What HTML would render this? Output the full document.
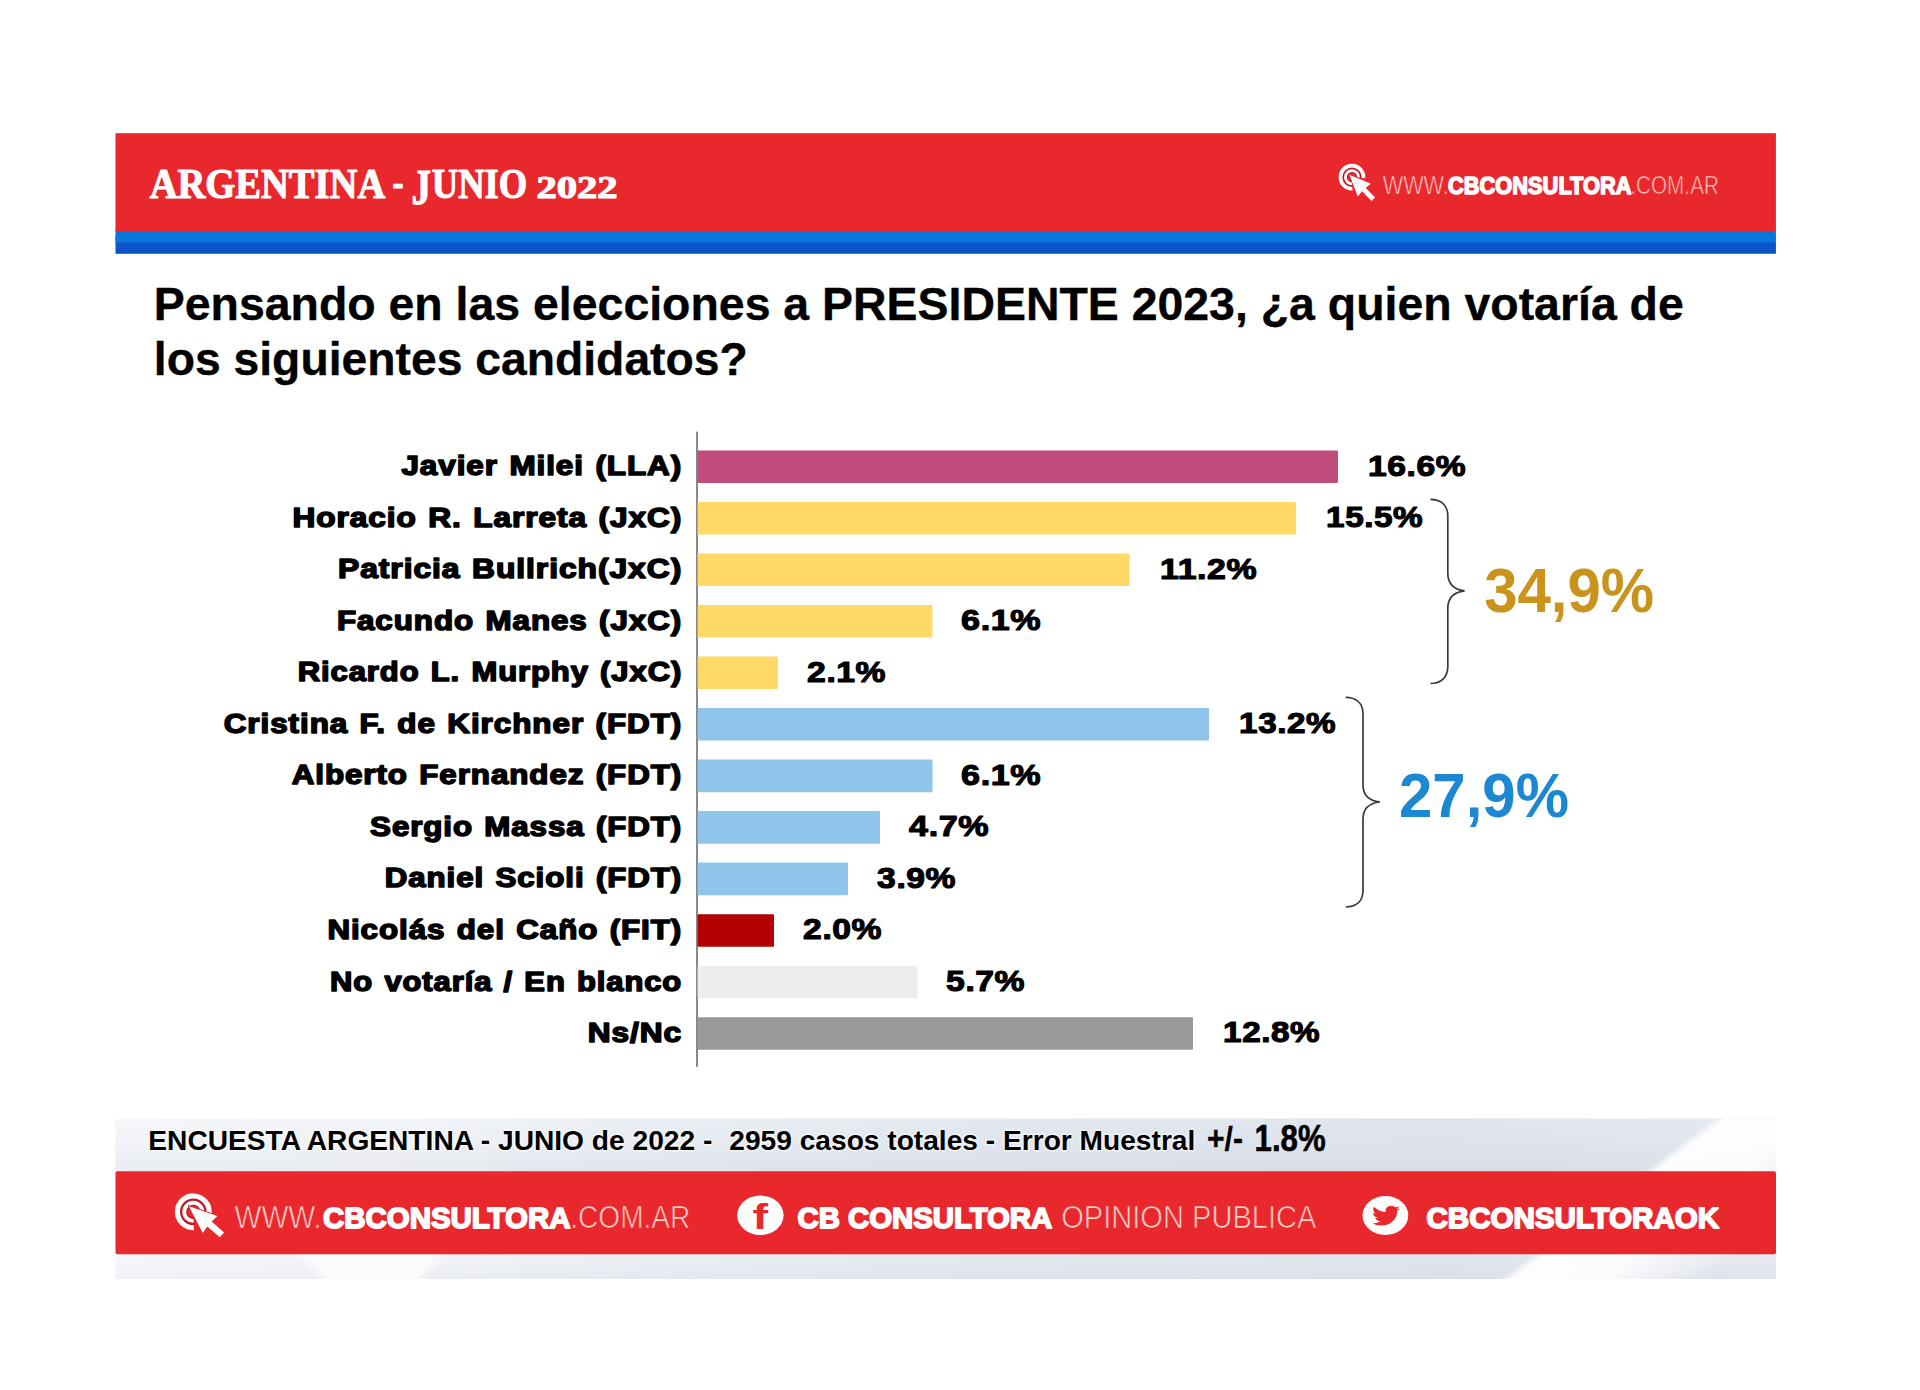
<!DOCTYPE html>
<html lang="es">
<head>
<meta charset="utf-8">
<title>Encuesta Argentina - Junio 2022</title>
<style>
html,body{margin:0;padding:0;background:#fff;}
body{width:1920px;height:1390px;overflow:hidden;position:relative;}
svg{position:absolute;left:0;top:0;display:block;}
text{font-family:"Liberation Sans",sans-serif;}
.serif{font-family:"Liberation Serif",serif;font-weight:bold;fill:#fff;stroke:#fff;stroke-width:1.15px;stroke-linejoin:round;}
.ttl{font-weight:bold;font-size:46.4px;fill:#000;stroke:#000;stroke-width:.35px;}
.blk{font-weight:bold;font-size:26.9px;fill:#000;stroke:#000;stroke-width:1.5px;stroke-linejoin:round;word-spacing:1.5px;letter-spacing:.8px;}
.val{font-size:29.8px;stroke-width:1.15px;letter-spacing:.5px;}
.big{font-weight:bold;font-size:63px;}
.thin{font-weight:normal;fill:#ffd2cb;stroke:#e8282c;stroke-width:.7px;}
.hvy{font-weight:bold;fill:#fff;stroke:#fff;stroke-linejoin:round;}
.foot{font-weight:bold;fill:#000;stroke:#fff;stroke-opacity:.55;stroke-width:3px;paint-order:stroke;stroke-linejoin:round;}
.fb{font-weight:bold;fill:#e8282c;}
</style>
</head>
<body>
<svg width="1920" height="1390" viewBox="0 0 1920 1390">
<defs>
</defs>

<g id="header">
<rect x="115.5" y="236" width="1660.4" height="17.8" fill="#0b53c6"/>
<rect x="115.5" y="228" width="1660.4" height="14.5" fill="#0876da"/>
<rect x="115.5" y="133.2" width="1660.4" height="98" fill="#e8282c"/>

<text class="serif" y="197.7" font-size="41.5"><tspan x="149.7" textLength="233.4" lengthAdjust="spacingAndGlyphs">ARGENTINA</tspan> <tspan x="392.5" textLength="11.0" lengthAdjust="spacingAndGlyphs" y="195.9">-</tspan> <tspan x="411.4" textLength="19.5" lengthAdjust="spacingAndGlyphs" y="204" font-size="51">J</tspan><tspan x="431.8" textLength="95.4" lengthAdjust="spacingAndGlyphs" y="197.7">UNIO</tspan> <tspan x="536.4" textLength="81.2" lengthAdjust="spacingAndGlyphs" y="197.7" font-size="31.5">2022</tspan></text>
<g transform="translate(1352.0,177.2)">
<path d="M6.83 0.96 A6.90 6.90 0 1 0 0.72 6.86" fill="none" stroke="#bd1a27" stroke-width="5.60"/>
<path d="M11.52 0.81 A11.55 11.55 0 1 0 0.40 11.54" fill="none" stroke="#fff" stroke-width="3.70"/>
<path d="M6.60 0.23 A6.60 6.60 0 1 0 0.23 6.60" fill="none" stroke="#fff" stroke-width="2.80"/>
<g transform="translate(-2.60,-2.40) rotate(-44.3)">
<polygon points="0,0 9.2,21.5 2.5,20.7 2.5,34.2 -2.5,34.2 -2.5,20.7 -9.2,21.5" fill="#fff" stroke="#e8282c" stroke-width="1.50" stroke-linejoin="round" paint-order="stroke"/>
</g></g>
<text y="193.5"><tspan x="1382.7" textLength="66.2" lengthAdjust="spacingAndGlyphs" class="thin" font-size="26.6">WWW.</tspan><tspan x="1448.1" textLength="183.4" lengthAdjust="spacingAndGlyphs" class="hvy" font-size="24.2" stroke-width="1.6">CBCONSULTORA</tspan><tspan x="1630.3" textLength="88.6" lengthAdjust="spacingAndGlyphs" class="thin" font-size="26.6">.COM.AR</tspan></text>
</g>
<g id="title">
<text x="153.8" y="319.6" class="ttl" textLength="1530.0" lengthAdjust="spacingAndGlyphs">Pensando en las elecciones a PRESIDENTE 2023, ¿a quien votaría de</text>
<text x="153.8" y="375.3" class="ttl" textLength="594.0" lengthAdjust="spacingAndGlyphs">los siguientes candidatos?</text>
</g>
<g id="chart">
<rect x="696.1" y="431.6" width="1.8" height="635.3" fill="#7c7c7c"/>
<rect x="697.6" y="450.4" width="640.4" height="32.6" rx="1.2" fill="#bf4c7c"/>
<text x="401.4" y="475.2" class="blk" textLength="280.8" lengthAdjust="spacingAndGlyphs">Javier Milei (LLA)</text>
<text x="1368.1" y="475.6" class="blk val" textLength="98.0" lengthAdjust="spacingAndGlyphs">16.6%</text>
<rect x="697.6" y="501.9" width="598.4" height="32.6" rx="1.2" fill="#ffd966"/>
<text x="292.5" y="526.7" class="blk" textLength="389.7" lengthAdjust="spacingAndGlyphs">Horacio R. Larreta (JxC)</text>
<text x="1326.1" y="527.1" class="blk val" textLength="97.0" lengthAdjust="spacingAndGlyphs">15.5%</text>
<rect x="697.6" y="553.5" width="431.9" height="32.6" rx="1.2" fill="#ffd966"/>
<text x="338.0" y="578.3" class="blk" textLength="344.2" lengthAdjust="spacingAndGlyphs">Patricia Bullrich(JxC)</text>
<text x="1160.1" y="578.7" class="blk val" textLength="97.0" lengthAdjust="spacingAndGlyphs">11.2%</text>
<rect x="697.6" y="605.0" width="234.9" height="32.6" rx="1.2" fill="#ffd966"/>
<text x="336.9" y="629.8" class="blk" textLength="345.3" lengthAdjust="spacingAndGlyphs">Facundo Manes (JxC)</text>
<text x="961.1" y="630.2" class="blk val" textLength="80.0" lengthAdjust="spacingAndGlyphs">6.1%</text>
<rect x="697.6" y="656.5" width="80.4" height="32.6" rx="1.2" fill="#ffd966"/>
<text x="297.7" y="681.3" class="blk" textLength="384.5" lengthAdjust="spacingAndGlyphs">Ricardo L. Murphy (JxC)</text>
<text x="807.1" y="681.7" class="blk val" textLength="79.0" lengthAdjust="spacingAndGlyphs">2.1%</text>
<rect x="697.6" y="708.0" width="511.4" height="32.6" rx="1.2" fill="#8fc5ea"/>
<text x="223.7" y="732.9" class="blk" textLength="458.5" lengthAdjust="spacingAndGlyphs">Cristina F. de Kirchner (FDT)</text>
<text x="1239.1" y="733.2" class="blk val" textLength="97.0" lengthAdjust="spacingAndGlyphs">13.2%</text>
<rect x="697.6" y="759.6" width="234.9" height="32.6" rx="1.2" fill="#8fc5ea"/>
<text x="291.7" y="784.4" class="blk" textLength="390.5" lengthAdjust="spacingAndGlyphs">Alberto Fernandez (FDT)</text>
<text x="961.1" y="784.8" class="blk val" textLength="80.0" lengthAdjust="spacingAndGlyphs">6.1%</text>
<rect x="697.6" y="811.1" width="182.4" height="32.6" rx="1.2" fill="#8fc5ea"/>
<text x="370.1" y="835.9" class="blk" textLength="312.1" lengthAdjust="spacingAndGlyphs">Sergio Massa (FDT)</text>
<text x="909.1" y="836.3" class="blk val" textLength="80.0" lengthAdjust="spacingAndGlyphs">4.7%</text>
<rect x="697.6" y="862.6" width="150.4" height="32.6" rx="1.2" fill="#8fc5ea"/>
<text x="384.7" y="887.4" class="blk" textLength="297.5" lengthAdjust="spacingAndGlyphs">Daniel Scioli (FDT)</text>
<text x="877.1" y="887.8" class="blk val" textLength="79.0" lengthAdjust="spacingAndGlyphs">3.9%</text>
<rect x="697.6" y="914.2" width="76.4" height="32.6" rx="1.2" fill="#b30000"/>
<text x="327.4" y="939.0" class="blk" textLength="354.8" lengthAdjust="spacingAndGlyphs">Nicolás del Caño (FIT)</text>
<text x="803.1" y="939.4" class="blk val" textLength="79.0" lengthAdjust="spacingAndGlyphs">2.0%</text>
<rect x="697.6" y="965.7" width="219.9" height="32.6" rx="1.2" fill="#ededed"/>
<text x="330.1" y="990.5" class="blk" textLength="352.1" lengthAdjust="spacingAndGlyphs">No votaría / En blanco</text>
<text x="946.1" y="990.9" class="blk val" textLength="79.0" lengthAdjust="spacingAndGlyphs">5.7%</text>
<rect x="697.6" y="1017.2" width="495.4" height="32.6" rx="1.2" fill="#999999"/>
<text x="587.7" y="1042.0" class="blk" textLength="94.5" lengthAdjust="spacingAndGlyphs">Ns/Nc</text>
<text x="1223.1" y="1042.4" class="blk val" textLength="97.0" lengthAdjust="spacingAndGlyphs">12.8%</text>
<path d="M1430.5 499.3 C1441 499.5 1447.8 505 1447.8 516 L1447.8 573 C1447.8 583 1453 589.5 1464.6 590.8 C1453 592.1 1447.8 598.5 1447.8 608.5 L1447.8 666.5 C1447.8 677.5 1441 683.3 1430.5 683.5" fill="none" stroke="#3a3a3a" stroke-width="1.7"/>
<path d="M1345.7 697.3 C1356 697.5 1363 703 1363 714 L1363 785 C1363 795 1368.5 800.8 1379.9 802 C1368.5 803.2 1363 809 1363 819 L1363 890.5 C1363 901.5 1356 906.8 1345.7 907" fill="none" stroke="#3a3a3a" stroke-width="1.7"/>
<text x="1484.2" y="611.6" class="big" textLength="170.0" lengthAdjust="spacingAndGlyphs" fill="#c9931c">34,9%</text>
<text x="1399.0" y="817.2" class="big" textLength="170.0" lengthAdjust="spacingAndGlyphs" fill="#1b88d1">27,9%</text>
</g>
<g id="footer">
<defs>
<linearGradient id="fbg" x1="0" y1="0" x2="1" y2="0">
<stop offset="0" stop-color="#f5f7fa"/>
<stop offset="0.18" stop-color="#f2f4f8"/>
<stop offset="0.33" stop-color="#eaeef4"/>
<stop offset="0.55" stop-color="#e3e8ef"/>
<stop offset="0.8" stop-color="#e0e5ed"/>
<stop offset="1" stop-color="#e6e9f0"/>
</linearGradient>
<linearGradient id="vshade" x1="0" y1="0" x2="0" y2="1">
<stop offset="0" stop-color="#aab3c4" stop-opacity="0"/>
<stop offset="0.45" stop-color="#aab3c4" stop-opacity=".05"/>
<stop offset="1" stop-color="#aab3c4" stop-opacity=".16"/>
</linearGradient>
<linearGradient id="streak" gradientUnits="userSpaceOnUse" x1="1712.5" y1="1119" x2="1832.5" y2="1279">
<stop offset="0" stop-color="#fff" stop-opacity="0"/>
<stop offset="0.04" stop-color="#fff" stop-opacity=".92"/>
<stop offset="0.3" stop-color="#fff" stop-opacity=".9"/>
<stop offset="0.62" stop-color="#fff" stop-opacity="0"/>
</linearGradient>
</defs>
<rect x="115.5" y="1118.5" width="1660.5" height="160.5" fill="url(#fbg)"/>
<rect x="115.5" y="1118.5" width="1660.5" height="53" fill="url(#vshade)"/>
<rect x="115.5" y="1254" width="1660.5" height="25" fill="url(#vshade)" opacity=".6"/>
<polygon points="305,1254 436,1254 418,1279 328,1279" fill="#fff" fill-opacity=".6"/>
<polygon points="296,1254 446,1254 426,1279 318,1279" fill="#fff" fill-opacity=".3"/>
<rect x="115.5" y="1118.5" width="1660.5" height="160.5" fill="url(#streak)"/>
<rect x="115.5" y="1171.3" width="1660.5" height="83" rx="2" fill="#e8282c"/>

<text class="foot" y="1150.0" font-size="27.8"><tspan x="148.3" textLength="564.0" lengthAdjust="spacingAndGlyphs">ENCUESTA ARGENTINA - JUNIO de 2022 -</tspan>  <tspan x="729.3" textLength="466.0" lengthAdjust="spacingAndGlyphs">2959 casos totales - Error Muestral</tspan> <tspan x="1207.0" textLength="36.0" lengthAdjust="spacingAndGlyphs" font-size="33" style="stroke:#000;stroke-opacity:1;stroke-width:.3px">+/-</tspan> <tspan x="1254.6" textLength="71.0" lengthAdjust="spacingAndGlyphs" y="1150.6" font-size="36" style="stroke:#000;stroke-opacity:1;stroke-width:.6px">1.8%</tspan></text>
<g transform="translate(193.3,1211.8)">
<path d="M9.40 1.32 A9.49 9.49 0 1 0 0.99 9.44" fill="none" stroke="#bd1a27" stroke-width="7.70"/>
<path d="M15.84 1.11 A15.88 15.88 0 1 0 0.55 15.87" fill="none" stroke="#fff" stroke-width="5.09"/>
<path d="M9.07 0.32 A9.07 9.07 0 1 0 0.32 9.07" fill="none" stroke="#fff" stroke-width="3.85"/>
<g transform="translate(-4.35,-5.60) rotate(-49.0)">
<polygon points="0,0 11.2,28 3.3,27.2 3.3,43.7 -3.3,43.7 -3.3,27.2 -11.2,28" fill="#fff" stroke="#e8282c" stroke-width="2.06" stroke-linejoin="round" paint-order="stroke"/>
</g></g>
<text y="1228.3"><tspan x="234.5" textLength="87.0" lengthAdjust="spacingAndGlyphs" class="thin" font-size="31">WWW.</tspan><tspan x="323.0" textLength="247.4" lengthAdjust="spacingAndGlyphs" class="hvy" font-size="30" stroke-width="1.8">CBCONSULTORA</tspan><tspan x="570.3" textLength="120.0" lengthAdjust="spacingAndGlyphs" class="thin" font-size="31">.COM.AR</tspan></text>
<ellipse cx="760.4" cy="1215.3" rx="23.2" ry="19.7" fill="#fff"/>
<text x="752.4" y="1228.5" class="fb" textLength="15.6" lengthAdjust="spacingAndGlyphs" font-size="35.5">f</text>
<text y="1227.5"><tspan x="797.6" textLength="254.6" lengthAdjust="spacingAndGlyphs" class="hvy" font-size="29.4" stroke-width="1.8">CB CONSULTORA</tspan> <tspan x="1061.2" textLength="255.3" lengthAdjust="spacingAndGlyphs" class="thin" font-size="30.6">OPINION PUBLICA</tspan></text>
<ellipse cx="1385.4" cy="1215.5" rx="22.9" ry="19.5" fill="#fff"/>
<path transform="translate(1372.1,1203.5) scale(1.1625,1.015)" fill="#e8282c" d="M23.953 4.57a10 10 0 01-2.825.775 4.958 4.958 0 002.163-2.723c-.951.555-2.005.959-3.127 1.184a4.92 4.92 0 00-8.384 4.482C7.69 8.095 4.067 6.13 1.64 3.162a4.822 4.822 0 00-.666 2.475c0 1.71.87 3.213 2.188 4.096a4.904 4.904 0 01-2.228-.616v.06a4.923 4.923 0 003.946 4.827 4.996 4.996 0 01-2.212.085 4.936 4.936 0 004.604 3.417 9.867 9.867 0 01-6.102 2.105c-.39 0-.779-.023-1.17-.067a13.995 13.995 0 007.557 2.209c9.053 0 13.998-7.496 13.998-13.985 0-.21 0-.42-.015-.63A9.935 9.935 0 0024 4.59z"/>
<text x="1426.5" y="1227.7" class="hvy" textLength="292.5" lengthAdjust="spacingAndGlyphs" font-size="29.8" stroke-width="1.8">CBCONSULTORAOK</text>
</g>
</svg>
</body>
</html>
